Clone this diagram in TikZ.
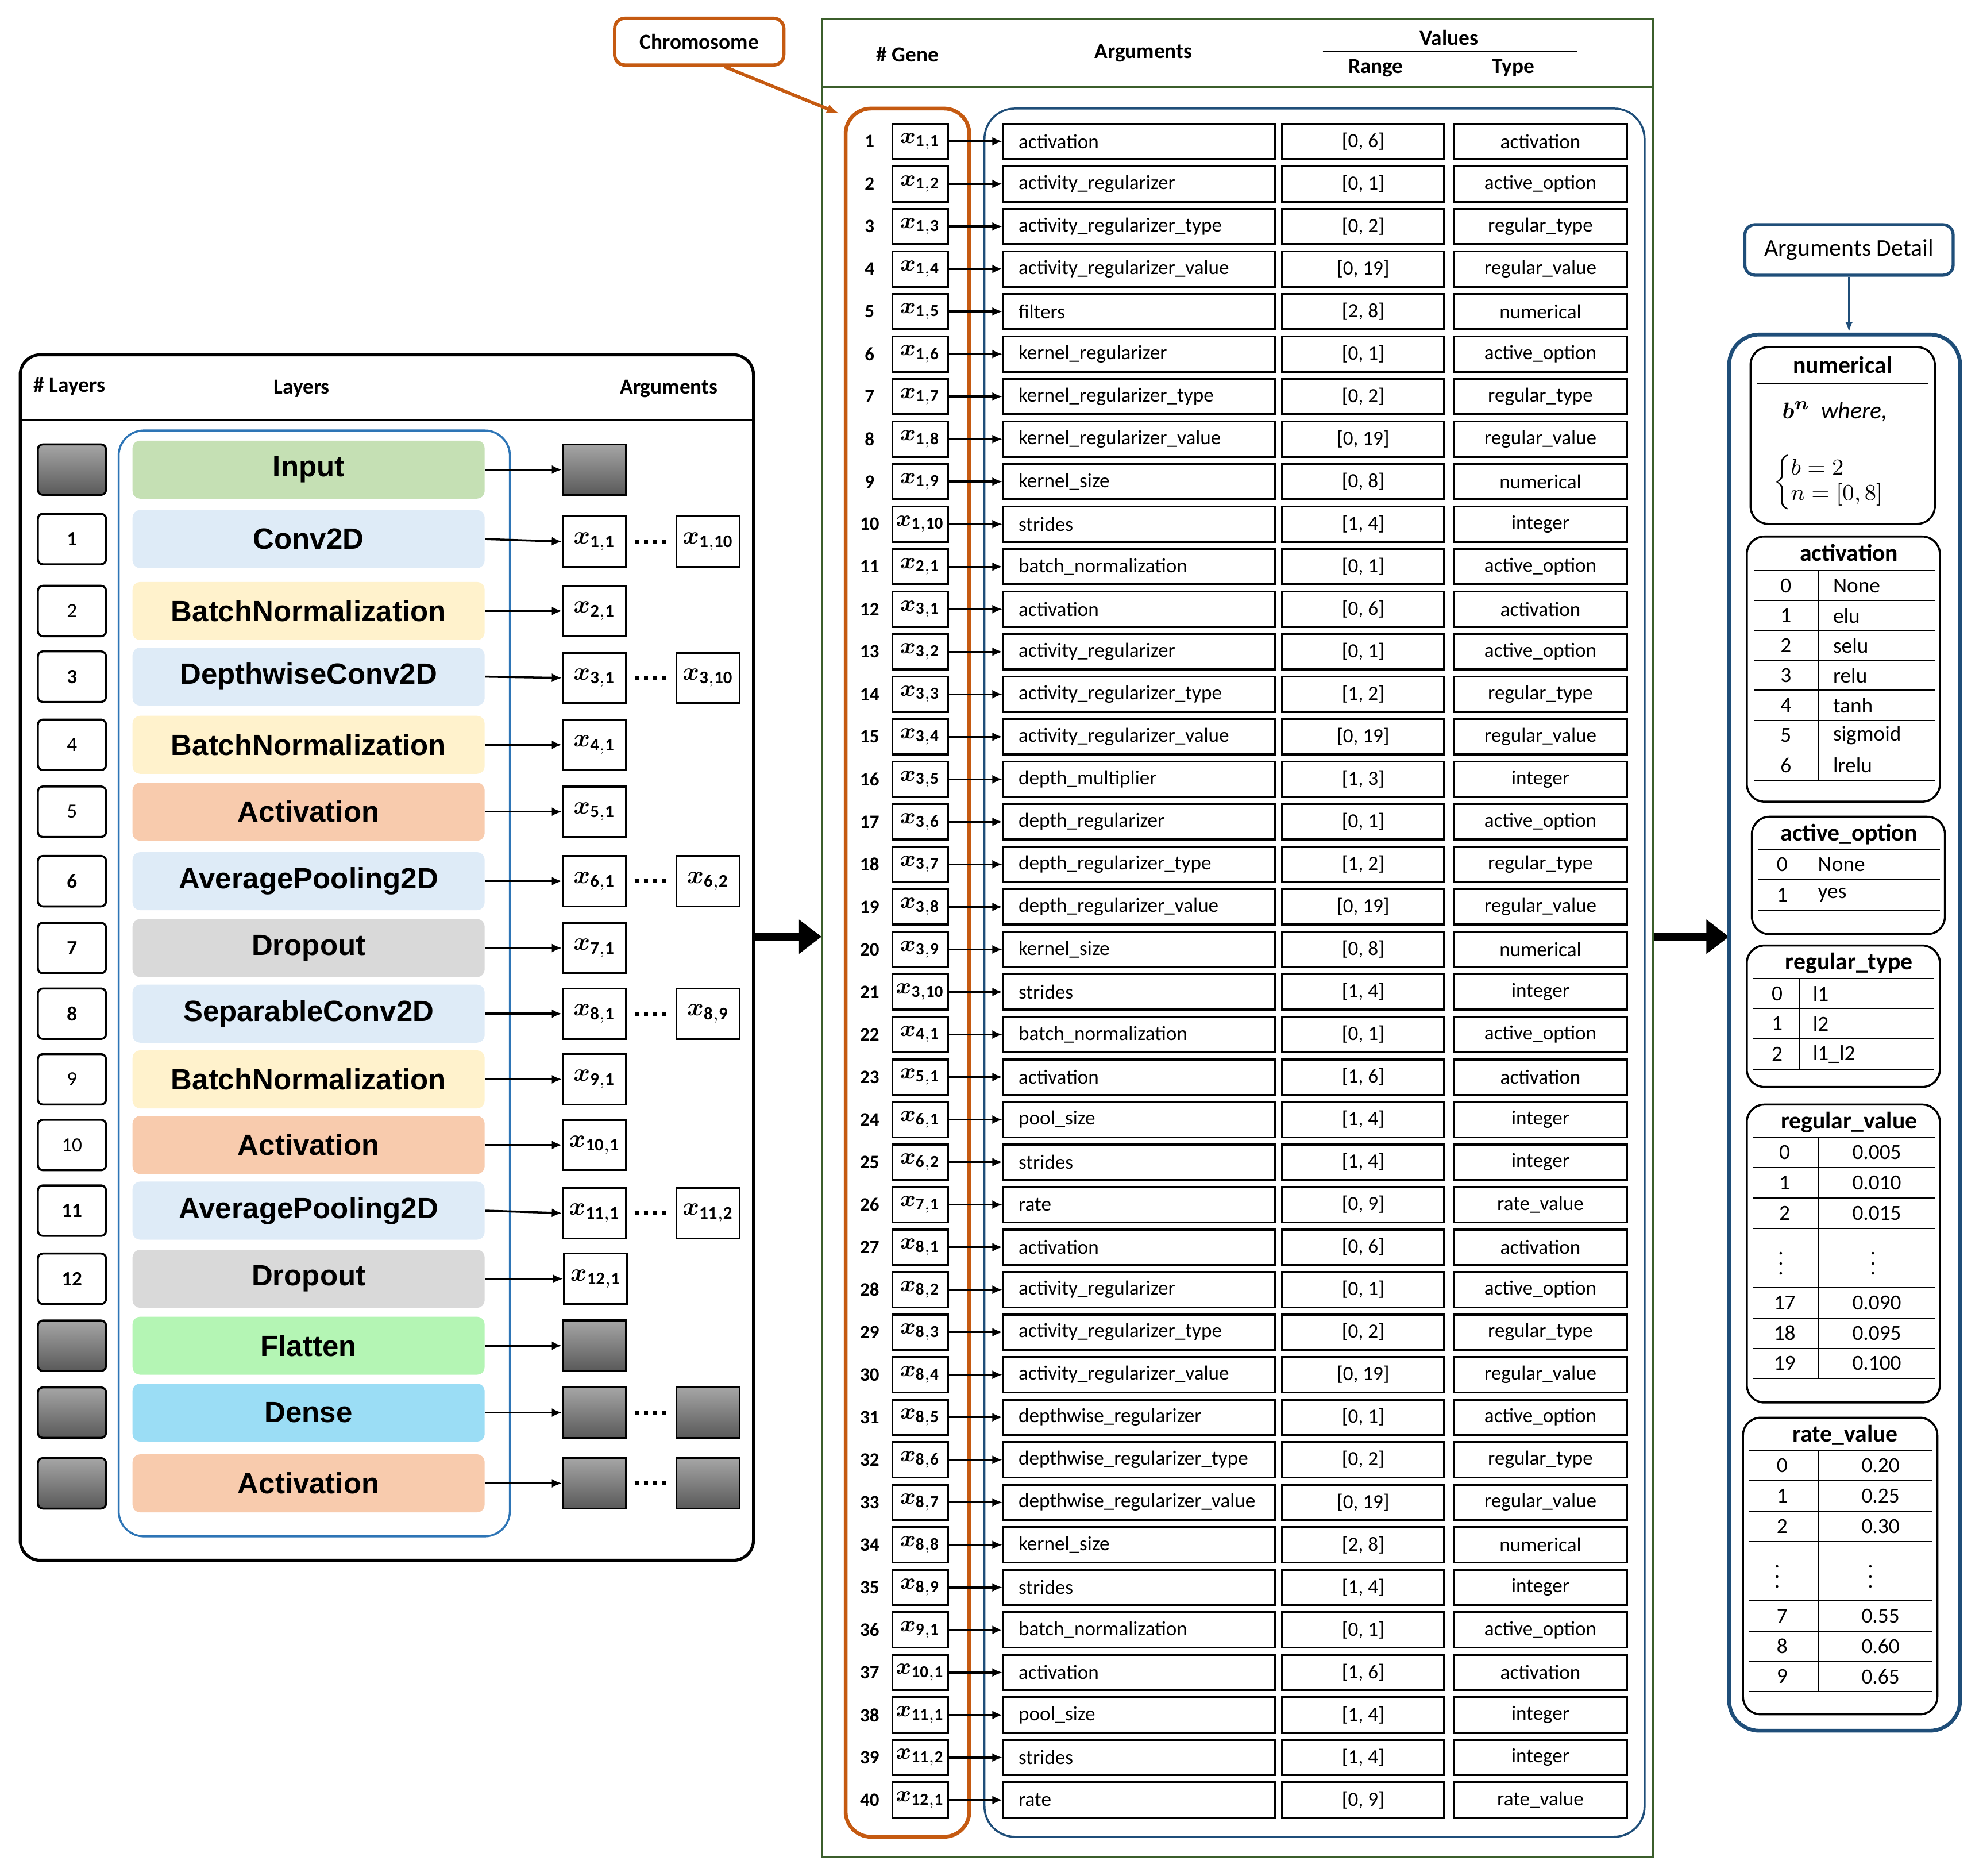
\documentclass[tikz,border=0pt]{standalone}
\usepackage{amsmath,bm}
\usepackage{fontspec}
\setmainfont{Carlito}
\newfontfamily\arialf{Liberation Sans}
\usetikzlibrary{arrows.meta,calc}
\definecolor{cIn}{HTML}{C5E0B4}
\definecolor{cBl}{HTML}{DEEBF7}
\definecolor{cYe}{HTML}{FFF2CC}
\definecolor{cOr}{HTML}{F8CBAD}
\definecolor{cGr}{HTML}{D9D9D9}
\definecolor{cFl}{HTML}{B4F5B4}
\definecolor{cDe}{HTML}{9BDDF5}
\definecolor{orng}{HTML}{C55A11}
\definecolor{blu}{HTML}{2E75B6}
\definecolor{dblu}{HTML}{1F4E79}
\definecolor{grn}{HTML}{3B5E2B}
\tikzset{
 lay/.style={rounded corners=3pt, minimum width=139.5pt, minimum height=23pt, inner sep=0pt, font=\arialf\bfseries\fontsize{11.6}{13}\selectfont},
 nb/.style={draw, thick, rounded corners=2pt, minimum width=27pt, minimum height=20pt, inner sep=0pt, font=\fontsize{8}{9}\selectfont},
 ab/.style={draw, thick, minimum width=25pt, minimum height=20pt, inner sep=0pt, font=\fontsize{10}{11}\selectfont},
 gb/.style={ab, top color=black!35, bottom color=black!65},
 gnb/.style={nb, top color=black!35, bottom color=black!65},
 arr/.style={-{Latex[length=4pt,width=3.5pt]}, thick},
 dots/.style={dotted, line width=1.6pt},
 hd/.style={font=\bfseries\fontsize{8.5}{10}\selectfont},
 num/.style={font=\bfseries\fontsize{7.5}{9}\selectfont},
 xg/.style={draw, thick, minimum width=22pt, minimum height=14pt, inner sep=0pt, font=\fontsize{9.5}{10}\selectfont},
 ag/.style={draw, thick, text width=95.5pt, inner xsep=6pt, minimum height=14pt, inner ysep=0pt, align=left, font=\fontsize{8}{9}\selectfont},
 rg/.style={draw, thick, minimum width=64pt, minimum height=14pt, inner sep=0pt, font=\fontsize{8}{9}\selectfont},
 tg/.style={draw, thick, minimum width=68.5pt, minimum height=14pt, inner sep=0pt, font=\fontsize{8}{9}\selectfont},
 tt/.style={font=\bfseries\fontsize{9.5}{10}\selectfont},
 te/.style={font=\fontsize{8.5}{9}\selectfont, inner sep=0pt},
 pan/.style={draw, thick, rounded corners=7pt},
}
\begin{document}
\begin{tikzpicture}[x=0.5pt,y=-0.5pt]
\useasboundingbox (0,0) rectangle (1568,1486);
% ---------- left panel
\draw[line width=1.2pt, rounded corners=8pt] (16,281) rectangle (597,1236);
\draw[thick] (16,333) -- (597,333);
\node[hd] (h1) at (55,306) {\# Layers};
\node[hd] (h2) at (239,308) {Layers};
\node[hd] (h3) at (530,308) {Arguments};
\draw[blu, thick, rounded corners=10pt] (94,341) rectangle (404,1217);
% rows
\node[lay, fill=cIn] (L0) at (244.5,372) {Input};
\node[lay, fill=cBl] (L1) at (244.5,427) {Conv2D};
\node[lay, fill=cYe] (L2) at (244.5,484) {BatchNormalization};
\node[lay, fill=cBl] (L3) at (244.5,536) {DepthwiseConv2D};
\node[lay, fill=cYe] (L4) at (244.5,590) {BatchNormalization};
\node[lay, fill=cOr] (L5) at (244.5,643) {Activation};
\node[lay, fill=cBl] (L6) at (244.5,698) {AveragePooling2D};
\node[lay, fill=cGr] (L7) at (244.5,751) {Dropout};
\node[lay, fill=cBl] (L8) at (244.5,803) {SeparableConv2D};
\node[lay, fill=cYe] (L9) at (244.5,855) {BatchNormalization};
\node[lay, fill=cOr] (L10) at (244.5,907) {Activation};
\node[lay, fill=cBl] (L11) at (244.5,959) {AveragePooling2D};
\node[lay, fill=cGr] (L12) at (244.5,1013) {Dropout};
\node[lay, fill=cFl] (L13) at (244.5,1066) {Flatten};
\node[lay, fill=cDe] (L14) at (244.5,1119) {Dense};
\node[lay, fill=cOr] (L15) at (244.5,1175) {Activation};
% numbers
\node[gnb] (N0) at (57,372) {};
\node[nb] (N1) at (57,427) {\bfseries 1};
\node[nb] (N2) at (57,484) {2};
\node[nb] (N3) at (57,536) {\bfseries 3};
\node[nb] (N4) at (57,590) {4};
\node[nb] (N5) at (57,643) {5};
\node[nb] (N6) at (57,698) {\bfseries 6};
\node[nb] (N7) at (57,751) {\bfseries 7};
\node[nb] (N8) at (57,803) {\bfseries 8};
\node[nb] (N9) at (57,855) {9};
\node[nb] (N10) at (57,907) {10};
\node[nb] (N11) at (57,959) {\bfseries 11};
\node[nb] (N12) at (57,1013) {\bfseries 12};
\node[gnb] (N13) at (57,1066) {};
\node[gnb] (N14) at (57,1119) {};
\node[gnb] (N15) at (57,1175) {};
% argument boxes
\node[gb] (A0) at (471,372) {};
\node[ab] (A1) at (471,429) {$\bm{x}_{\mathbf{1,1}}$};
\node[ab] (B1) at (561,429) {$\bm{x}_{\mathbf{1,10}}$};
\node[ab] (A2) at (471,484) {$\bm{x}_{\mathbf{2,1}}$};
\node[ab] (A3) at (471,537) {$\bm{x}_{\mathbf{3,1}}$};
\node[ab] (B3) at (561,537) {$\bm{x}_{\mathbf{3,10}}$};
\node[ab] (A4) at (471,590) {$\bm{x}_{\mathbf{4,1}}$};
\node[ab] (A5) at (471,643) {$\bm{x}_{\mathbf{5,1}}$};
\node[ab] (A6) at (471,698) {$\bm{x}_{\mathbf{6,1}}$};
\node[ab] (B6) at (561,698) {$\bm{x}_{\mathbf{6,2}}$};
\node[ab] (A7) at (471,751) {$\bm{x}_{\mathbf{7,1}}$};
\node[ab] (A8) at (471,803) {$\bm{x}_{\mathbf{8,1}}$};
\node[ab] (B8) at (561,803) {$\bm{x}_{\mathbf{8,9}}$};
\node[ab] (A9) at (471,855) {$\bm{x}_{\mathbf{9,1}}$};
\node[ab] (A10) at (471,907) {$\bm{x}_{\mathbf{10,1}}$};
\node[ab] (A11) at (471,961) {$\bm{x}_{\mathbf{11,1}}$};
\node[ab] (B11) at (561,961) {$\bm{x}_{\mathbf{11,2}}$};
\node[ab] (A12) at (472,1013) {$\bm{x}_{\mathbf{12,1}}$};
\node[gb] (A13) at (471,1066) {};
\node[gb] (A14) at (471,1119) {};
\node[gb] (B14) at (561,1119) {};
\node[gb] (A15) at (471,1175) {};
\node[gb] (B15) at (561,1175) {};
\foreach \i in {0,...,15} \draw[arr] (L\i.east) -- (A\i.west);
\foreach \i in {1,3,6,8,11,14,15} \draw[dots] ($(A\i.east)+(6,0)$) -- ($(B\i.west)+(-5,0)$);
% big arrows
\coordinate (p1) at (597,742); \coordinate (p2) at (651,742);
\coordinate (p3) at (1310,742); \coordinate (p4) at (1370,742);
\draw[line width=3.5pt, -{Triangle[length=9pt,width=13pt]}] (p1) -- (p2);
\draw[line width=3.5pt, -{Triangle[length=9pt,width=13pt]}] (p3) -- (p4);
% ---------- middle panel
\draw[grn, thick] (651,15) rectangle (1310,1471);
\draw[grn, thick] (651,69) -- (1310,69);
\node[hd] (g0) at (719,43) {\# Gene};
\node[hd] (g1) at (906,42) {Arguments};
\node[hd] (g2) at (1148,30) {Values};
\draw (1048,41) -- (1250,41);
\node[hd] (g3) at (1090,54) {Range};
\node[hd] (g4) at (1199,54) {Type};
\node[draw=orng, line width=1.3pt, rounded corners=4pt, minimum width=67pt, minimum height=18.5pt, font=\bfseries\fontsize{8.5}{10}\selectfont] (chr) at (554,33) {Chromosome};
\draw[orng, line width=1.5pt, rounded corners=10pt] (670,86) rectangle (768,1455);
\draw[dblu, thick, rounded corners=12pt] (780,86) rectangle (1303,1455);
\coordinate (chrT) at (665,90);
\draw[orng, line width=1.3pt, -{Latex[length=5pt]}] ([xshift=10pt]chr.south) -- (chrT);
\foreach \n/\xa/\xb/\ar/\ra/\rb/\ty [evaluate=\n as \yy using 112+(\n-1)*33.69] in {
1/1/1/activation/0/6/activation,
2/1/2/activity\_regularizer/0/1/active\_option,
3/1/3/activity\_regularizer\_type/0/2/regular\_type,
4/1/4/activity\_regularizer\_value/0/19/regular\_value,
5/1/5/filters/2/8/numerical,
6/1/6/kernel\_regularizer/0/1/active\_option,
7/1/7/kernel\_regularizer\_type/0/2/regular\_type,
8/1/8/kernel\_regularizer\_value/0/19/regular\_value,
9/1/9/kernel\_size/0/8/numerical,
10/1/10/strides/1/4/integer,
11/2/1/batch\_normalization/0/1/active\_option,
12/3/1/activation/0/6/activation,
13/3/2/activity\_regularizer/0/1/active\_option,
14/3/3/activity\_regularizer\_type/1/2/regular\_type,
15/3/4/activity\_regularizer\_value/0/19/regular\_value,
16/3/5/depth\_multiplier/1/3/integer,
17/3/6/depth\_regularizer/0/1/active\_option,
18/3/7/depth\_regularizer\_type/1/2/regular\_type,
19/3/8/depth\_regularizer\_value/0/19/regular\_value,
20/3/9/kernel\_size/0/8/numerical,
21/3/10/strides/1/4/integer,
22/4/1/batch\_normalization/0/1/active\_option,
23/5/1/activation/1/6/activation,
24/6/1/pool\_size/1/4/integer,
25/6/2/strides/1/4/integer,
26/7/1/rate/0/9/rate\_value,
27/8/1/activation/0/6/activation,
28/8/2/activity\_regularizer/0/1/active\_option,
29/8/3/activity\_regularizer\_type/0/2/regular\_type,
30/8/4/activity\_regularizer\_value/0/19/regular\_value,
31/8/5/depthwise\_regularizer/0/1/active\_option,
32/8/6/depthwise\_regularizer\_type/0/2/regular\_type,
33/8/7/depthwise\_regularizer\_value/0/19/regular\_value,
34/8/8/kernel\_size/2/8/numerical,
35/8/9/strides/1/4/integer,
36/9/1/batch\_normalization/0/1/active\_option,
37/10/1/activation/1/6/activation,
38/11/1/pool\_size/1/4/integer,
39/11/2/strides/1/4/integer,
40/12/1/rate/0/9/rate\_value}{
 \node[num] (n\n) at (689,\yy) {\n};
 \node[xg] (x\n) at (729,\yy) {$\bm{x}_{\mathbf{\xa,\xb}}$};
 \node[ag] (a\n) at (902.5,\yy) {\ar};
 \node[rg] (r\n) at (1080,\yy) {[\ra, \rb]};
 \node[tg] (t\n) at (1220.5,\yy) {\ty};
 \draw[arr] (x\n.east) -- (a\n.west);
}
% ---------- right panel
\node[draw=dblu, line width=1.2pt, rounded corners=4pt, minimum width=82.5pt, minimum height=20pt, font=\fontsize{9.5}{11}\selectfont] (det) at (1465,198) {Arguments Detail};
\draw[dblu, line width=1.5pt, rounded corners=12pt] (1370,265) rectangle (1553,1371);
\coordinate (detT) at (1465,263);
\draw[dblu, thick, -{Latex[length=4pt]}] (det.south) -- (detT);
% numerical
\draw[pan] (1387,275) rectangle (1533,415);
\node[tt] (tn) at (1460,289) {numerical};
\draw (1392,304) -- (1528,304);
\node[anchor=west, font=\fontsize{9.5}{10}\selectfont] (nw) at (1405,326) {$\bm{b^n}$ \ \textit{where,}};
\node[anchor=west, font=\fontsize{9.5}{10}\selectfont] (nc) at (1398,382) {$\left\{\begin{array}{@{}l@{}} b=2\\ n=[0,8]\end{array}\right.$};
% activation
\draw[pan] (1384,425) rectangle (1537,635);
\node[tt] (ta) at (1465,438) {activation};
\foreach \k/\v in {0/None,1/elu,2/selu,3/relu,4/tanh,5/sigmoid,6/lrelu}{
 \node[te] at (1415,464+\k*23.7) {\k};
 \node[te, anchor=west] at (1452,464+\k*23.7) {\v};
 \draw (1390,452+\k*23.7) -- (1533,452+\k*23.7);
}
\draw (1390,618) -- (1533,618);
\draw (1441,452) -- (1441,618);
% active_option
\draw[pan] (1388,647) rectangle (1541,740);
\node[tt] (to) at (1465,661) {active\_option};
\foreach \k/\v in {0/None,1/yes}{
 \node[te] at (1412,685+\k*24) {\k};
 \node[te, anchor=west] at (1440,685+\k*24) {\v};
 \draw (1393,673+\k*24) -- (1537,673+\k*24);
}
\draw (1393,721) -- (1537,721);
% regular_type
\draw[pan] (1384,749) rectangle (1537,861);
\node[tt] (tr) at (1465,763) {regular\_type};
\foreach \k/\v in {0/l1,1/l2,2/l1\_l2}{
 \node[te] at (1408,787+\k*24) {\k};
 \node[te, anchor=west] at (1436,787+\k*24) {\v};
 \draw (1389,775+\k*24) -- (1532,775+\k*24);
}
\draw (1389,847) -- (1532,847);
\draw (1426,775) -- (1426,847);
% regular_value
\draw[pan] (1384,875) rectangle (1537,1111);
\node[tt] (tv) at (1465,889) {regular\_value};
\foreach \k/\v/\yy in {0/0.005/913,1/0.010/937,2/0.015/961,17/0.090/1032,18/0.095/1056,19/0.100/1080}{
 \node[te] at (1414,\yy) {\k};
 \node[te] at (1487,\yy) {\v};
}
\node[te] at (1411,995) {$\vdots$};
\node[te] at (1484,995) {$\vdots$};
\foreach \yy in {901,925,949,973,1020,1044,1068,1092} \draw (1389,\yy) -- (1533,\yy);
\draw (1441,901) -- (1441,1092);
% rate_value
\draw[pan] (1381,1123) rectangle (1535,1358);
\node[tt] (tq) at (1462,1137) {rate\_value};
\foreach \k/\v/\yy in {0/0.20/1161,1/0.25/1185,2/0.30/1209,7/0.55/1280,8/0.60/1304,9/0.65/1328}{
 \node[te] at (1412,\yy) {\k};
 \node[te] at (1490,\yy) {\v};
}
\node[te] at (1408,1243) {$\vdots$};
\node[te] at (1482,1243) {$\vdots$};
\foreach \yy in {1149,1173,1197,1221,1268,1292,1316,1340} \draw (1386,\yy) -- (1531,\yy);
\draw (1441,1149) -- (1441,1340);
\end{tikzpicture}
\end{document}
